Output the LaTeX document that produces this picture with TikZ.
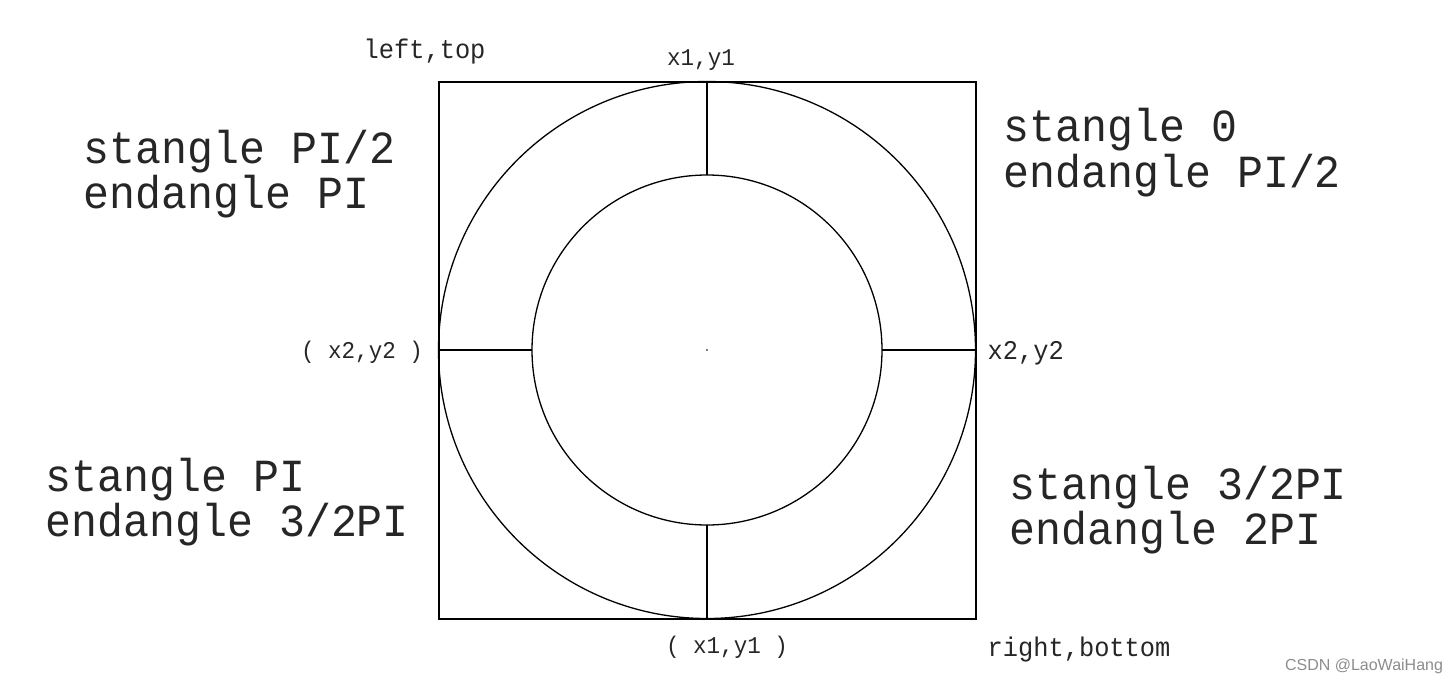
\documentclass[tikz,border=0pt]{standalone}
\usepackage{fontspec}
\newfontfamily\strokefont[FakeStretch=0.94]{Liberation Mono}
\newfontfamily\wmfont{Liberation Sans}
\begin{document}
\begin{tikzpicture}[x=1pt,y=-1pt,line width=1.3pt,
  big/.style={font=\strokefont\fontsize{46}{46}\selectfont, text=black!85, anchor=base west, inner sep=0pt},
  small/.style={font=\strokefont\fontsize{27}{27}\selectfont, text=black!85, anchor=base, inner sep=0pt},
  smaller/.style={font=\strokefont\fontsize{24}{24}\selectfont, text=black!85, anchor=base, inner sep=0pt},
  divider/.style={line width=1.3pt}]
\useasboundingbox (0,0) rectangle (1454,685);
\coordinate (c) at (707,350);
\draw (439,82) rectangle (976,619);
\draw (c) circle (268.5);
\draw (c) circle (175);
\fill (c) circle (0.8);
% dividers
\coordinate (ot) at (707,82);   \coordinate (it) at (707,175);
\coordinate (ob) at (707,619);  \coordinate (ib) at (707,525);
\coordinate (ol) at (439,350);  \coordinate (il) at (532,350);
\coordinate (or) at (976,350);  \coordinate (ir) at (882,350);
\draw[divider] (ot) -- (it);
\draw[divider] (ob) -- (ib);
\draw[divider] (ol) -- (il);
\draw[divider] (or) -- (ir);
% small labels
\node[small, anchor=base west] (lt) at (363,59) {left,top};
\node[smaller] (x1t) at (701,66) {x1,y1};
\node[smaller] (x2l) at (362,358) {( x2,y2 )};
\node[small, anchor=base west] (x2r) at (987,359) {x2,y2};
\node[smaller] (x1b) at (727,653) {( x1,y1 )};
\node[small, anchor=base west] (rb) at (987,656) {right,bottom};
% quadrant labels
\node[big] (q2a) at (83,163) {stangle PI/2};
\node[big] (q2b) at (83,208) {endangle PI};
\node[big] (q1a) at (1003,141) {stangle 0};
\node[big] (q1b) at (1003,187) {endangle PI/2};
\node[big] (q3a) at (45,491) {stangle PI};
\node[big] (q3b) at (45,536) {endangle 3/2PI};
\node[big] (q4a) at (1009,499) {stangle 3/2PI};
\node[big] (q4b) at (1009,544) {endangle 2PI};
% watermark
\node[font=\wmfont\fontsize{16}{16}\selectfont, text=black!45, inner sep=0pt] (wm) at (1364,666) {CSDN @LaoWaiHang};
\end{tikzpicture}
\end{document}
